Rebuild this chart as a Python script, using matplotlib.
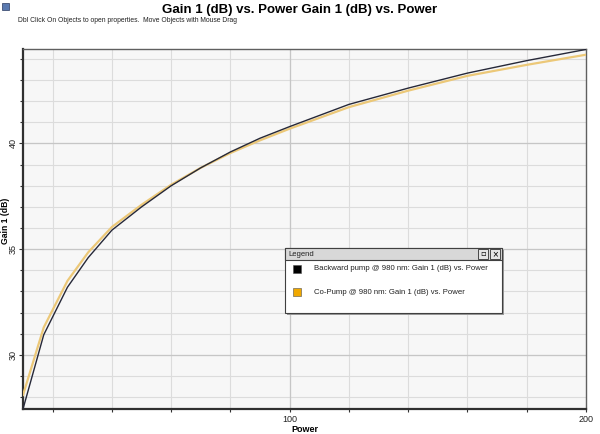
import matplotlib
matplotlib.use("Agg")
import matplotlib.pyplot as plt
from matplotlib.patches import Rectangle
from matplotlib.ticker import MultipleLocator, FixedLocator

plt.rcParams['font.family'] = ['Liberation Sans', 'DejaVu Sans']

power = [10, 17, 25, 32, 40, 50, 60, 70, 80, 90, 100, 120, 140, 160, 180, 200]
gain_backward = [27.44, 30.95, 33.2, 34.6, 35.9, 37.0, 38.0, 38.85, 39.6, 40.25,
                 40.8, 41.85, 42.62, 43.33, 43.92, 44.45]
gain_copump = [28.1, 31.3, 33.5, 34.85, 36.05, 37.1, 38.05, 38.85, 39.55, 40.15,
               40.7, 41.72, 42.5, 43.2, 43.72, 44.2]
series_names = ["Backward pump @ 980 nm: Gain 1 (dB) vs. Power",
                "Co-Pump @ 980 nm: Gain 1 (dB) vs. Power"]
title = "Gain 1 (dB) vs. Power Gain 1 (dB) vs. Power"
subtitle = "Dbl Click On Objects to open properties.  Move Objects with Mouse Drag"
xticks_major = [100, 200]
yticks_major = [30, 35, 40]

W, H = 600, 434
fig = plt.figure(figsize=(6.0, 4.34), dpi=100)
fig.patch.set_facecolor('white')

def fx(px):
    return px / W

def fy(py):
    return 1 - py / H

ax = fig.add_axes([fx(23), fy(409), fx(586) - fx(23), fy(49) - fy(409)])
ax.set_facecolor('#f7f7f7')

# grid
for v in range(20, 200, 20):
    ax.axvline(v, color='#dcdcdc', lw=0.8, zorder=0)
for v in range(28, 45):
    ax.axhline(v, color='#dcdcdc', lw=0.8, zorder=0)
for v in yticks_major:
    ax.axhline(v, color='#c6c6c6', lw=0.9, zorder=0)
ax.axvline(100, color='#c6c6c6', lw=0.9, zorder=0)

ax.plot(power, gain_copump, color='#ecc878', lw=1.6, zorder=3)
ax.plot(power, gain_backward, color='#262838', lw=1.0, zorder=4)

ax.set_xlim(10, 200)
ax.set_ylim(27.44, 44.47)

ax.xaxis.set_major_locator(FixedLocator(xticks_major))
ax.xaxis.set_minor_locator(MultipleLocator(20))
ax.yaxis.set_major_locator(FixedLocator(yticks_major))
ax.yaxis.set_minor_locator(MultipleLocator(1))
ax.tick_params(axis='both', which='both', direction='out', length=2.5, width=0.8,
               color='#333333', labelsize=6.5, labelcolor='#222222', pad=1.5)
ax.tick_params(axis='y', which='major', length=3, pad=0.5)
for lbl in ax.get_yticklabels():
    lbl.set_rotation(90)
    lbl.set_va('center')

for s in ['left', 'bottom']:
    ax.spines[s].set_color('#303030')
    ax.spines[s].set_linewidth(1.6)
for s in ['top', 'right']:
    ax.spines[s].set_color('#606060')
    ax.spines[s].set_linewidth(1.0)

ax.set_xlabel('Power', fontsize=6.5, fontweight='bold', labelpad=1)
ax.set_ylabel('Gain 1 (dB)', fontsize=6.2, fontweight='bold', va='center', ha='center')
ax.yaxis.set_label_coords((6 - 23) / 563, (409 - 221) / 360)

fig.text(0.5, fy(10), title, ha='center', va='center', fontsize=9.5, fontweight='bold')
fig.text(fx(18), fy(21), subtitle, ha='left', va='center', fontsize=4.9, color='#222222')

# small icon top-left
fig.patches.append(Rectangle((fx(2), fy(10)), fx(7), fy(1) - fy(8),
                             transform=fig.transFigure, facecolor='#5a7ab0',
                             edgecolor='#2a3a60', lw=0.5))

# legend window
lx0, lx1, ly0, ly1 = 285, 502, 248, 313
fig.patches.append(Rectangle((fx(lx0 + 2), fy(ly1 + 2)), fx(lx1) - fx(lx0), fy(ly0) - fy(ly1),
                             transform=fig.transFigure, facecolor='#9a9a9a', edgecolor='none', zorder=5))
fig.patches.append(Rectangle((fx(lx0), fy(ly1)), fx(lx1) - fx(lx0), fy(ly0) - fy(ly1),
                             transform=fig.transFigure, facecolor='white', edgecolor='#404040',
                             lw=0.8, zorder=6))
fig.patches.append(Rectangle((fx(lx0), fy(ly0 + 12)), fx(lx1) - fx(lx0), fy(ly0) - fy(ly0 + 12),
                             transform=fig.transFigure, facecolor='#d8d8d8', edgecolor='#404040',
                             lw=0.8, zorder=7))
fig.text(fx(lx0 + 3), fy(ly0 + 6), 'Legend', ha='left', va='center', fontsize=5.5,
         color='#222222', zorder=8)
# title-bar buttons
for bx in (478, 490):
    fig.patches.append(Rectangle((fx(bx), fy(ly0 + 11)), fx(10), fy(ly0 + 1) - fy(ly0 + 11),
                                 transform=fig.transFigure, facecolor='#e4e4e4',
                                 edgecolor='#303030', lw=0.6, zorder=8))
fig.text(fx(495), fy(ly0 + 6), '×', ha='center', va='center', fontsize=7, zorder=9)
fig.text(fx(483), fy(ly0 + 6), '▫', ha='center', va='center', fontsize=6, zorder=9,
         family=['DejaVu Sans'])

swatch_colors = ['#000000', '#f0a800']
rows = [269, 292]
for name, c, ry in zip(series_names, swatch_colors, rows):
    fig.patches.append(Rectangle((fx(293), fy(ry + 4)), fx(8), fy(ry - 4) - fy(ry + 4),
                                 transform=fig.transFigure, facecolor=c,
                                 edgecolor='#505050', lw=0.4, zorder=8))
    fig.text(fx(314), fy(ry), name, ha='left', va='center', fontsize=5.6,
             color='#222222', zorder=8)

fig.savefig('out.png', dpi=100)
